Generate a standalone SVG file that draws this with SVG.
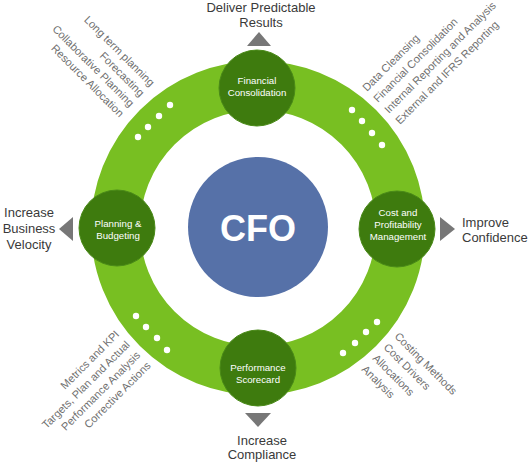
<svg xmlns="http://www.w3.org/2000/svg" width="530" height="466" viewBox="0 0 530 466">
<style>
.lbl{font-family:"Liberation Sans",Arial,sans-serif;font-size:13px;fill:#3a3a3a;text-anchor:middle}
.lbll{font-family:"Liberation Sans",Arial,sans-serif;font-size:13px;fill:#3a3a3a;text-anchor:start}
.nt{font-family:"Liberation Sans",Arial,sans-serif;font-size:9.7px;fill:#ffffff;text-anchor:middle}
.rt{font-family:"Liberation Sans",Arial,sans-serif;font-size:11px;fill:#707070}
.node{fill:#3e7b0e;stroke:#4a8a18;stroke-width:1}
.dot{fill:#ffffff}
.arr{fill:#777777}
</style>
<rect width="530" height="466" fill="#ffffff"/>
<g id="ring">
<circle cx="258" cy="228" r="142.5" fill="none" stroke="#78bf22" stroke-width="49"/>
<circle class="dot" cx="170" cy="105" r="3.2"/>
<circle class="dot" cx="159" cy="116" r="3.2"/>
<circle class="dot" cx="148" cy="127" r="3.2"/>
<circle class="dot" cx="138" cy="137" r="3.2"/>
<circle class="dot" cx="352" cy="110" r="3.2"/>
<circle class="dot" cx="362" cy="121" r="3.2"/>
<circle class="dot" cx="372" cy="133" r="3.2"/>
<circle class="dot" cx="382" cy="145" r="3.2"/>
<circle class="dot" cx="136" cy="316" r="3.2"/>
<circle class="dot" cx="146" cy="327" r="3.2"/>
<circle class="dot" cx="157" cy="338" r="3.2"/>
<circle class="dot" cx="167" cy="350" r="3.2"/>
<circle class="dot" cx="343" cy="353" r="3.2"/>
<circle class="dot" cx="355" cy="343" r="3.2"/>
<circle class="dot" cx="366" cy="332" r="3.2"/>
<circle class="dot" cx="377" cy="322" r="3.2"/>
</g>
<g id="connectors">
<polygon class="arr" points="259,32 271,46 247,46"/>
<polygon class="arr" points="59,229 73,217 73,241"/>
<polygon class="arr" points="455,229 440,217 440,241"/>
<polygon class="arr" points="258,427 271,413 245,413"/>
</g>
<g id="cfo">
<circle cx="258" cy="227" r="70" fill="#5671a8"/>
<text x="258" y="241" font-family="Liberation Sans,Arial,sans-serif" font-size="36" font-weight="bold" fill="#ffffff" text-anchor="middle">CFO</text>
</g>
<g id="node-financial">
<circle class="node" cx="257" cy="88" r="38"/>
<text class="nt" x="257" y="84">Financial</text>
<text class="nt" x="257" y="96">Consolidation</text>
</g>
<g id="node-cost">
<circle class="node" cx="397" cy="229" r="38"/>
<text class="nt" x="398" y="216">Cost and</text>
<text class="nt" x="398" y="228">Profitability</text>
<text class="nt" x="398" y="240">Management</text>
</g>
<g id="node-performance">
<circle class="node" cx="258" cy="368" r="38"/>
<text class="nt" x="258" y="371">Performance</text>
<text class="nt" x="258" y="383">Scorecard</text>
</g>
<g id="node-planning">
<circle class="node" cx="117" cy="228" r="38"/>
<text class="nt" x="118" y="227">Planning &amp;</text>
<text class="nt" x="118" y="239">Budgeting</text>
</g>
<g id="outcomes">
<text class="lbl" x="261" y="12">Deliver Predictable</text>
<text class="lbl" x="261" y="27">Results</text>
<text class="lbl" x="29" y="217">Increase</text>
<text class="lbl" x="29" y="233">Business</text>
<text class="lbl" x="29" y="249">Velocity</text>
<text class="lbll" x="462" y="227">Improve</text>
<text class="lbll" x="462" y="242">Confidence</text>
<text class="lbl" x="262" y="445">Increase</text>
<text class="lbl" x="262" y="459">Compliance</text>
</g>
<g id="details-planning" transform="translate(150,87) rotate(45)">
<text class="rt" text-anchor="end" x="0" y="0">Long term planning</text>
<text class="rt" text-anchor="end" x="0" y="14.5">Forecasting</text>
<text class="rt" text-anchor="end" x="0" y="29">Collaborative Planning</text>
<text class="rt" text-anchor="end" x="0" y="43.5">Resource Allocation</text>
</g>
<g id="details-financial" transform="translate(367,92) rotate(-45)">
<text class="rt" x="0" y="0">Data Cleansing</text>
<text class="rt" x="0" y="15.5">Financial Consolidation</text>
<text class="rt" x="0" y="31">Internal Reporting and Analysis</text>
<text class="rt" x="0" y="46.5">External and IFRS Reporting</text>
</g>
<g id="details-performance" transform="translate(120,335) rotate(-45)">
<text class="rt" text-anchor="end" x="0" y="0">Metrics and KPI</text>
<text class="rt" text-anchor="end" x="0" y="14.8">Targets, Plan and Actual</text>
<text class="rt" text-anchor="end" x="0" y="29.6">Performance Analysis</text>
<text class="rt" text-anchor="end" x="0" y="44.4">Corrective Actions</text>
</g>
<g id="details-cost" transform="translate(394,337) rotate(45)">
<text class="rt" x="0" y="0">Costing Methods</text>
<text class="rt" x="0" y="15.5">Cost Drivers</text>
<text class="rt" x="0" y="31">Allocations</text>
<text class="rt" x="0" y="46.5">Analysis</text>
</g>
</svg>
